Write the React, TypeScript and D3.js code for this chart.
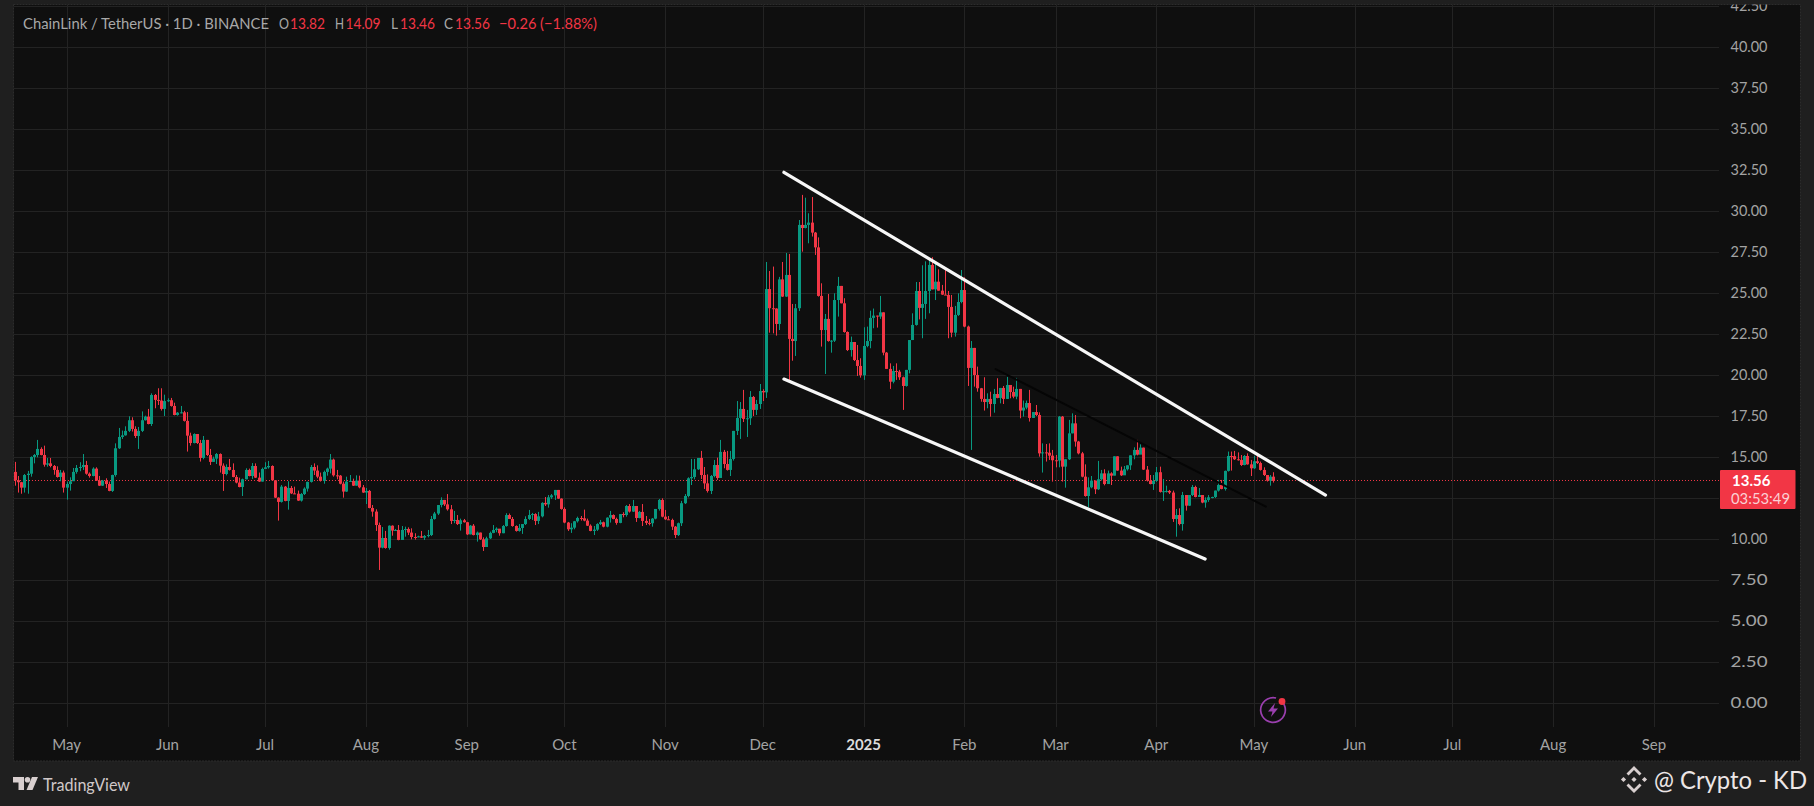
import { useRef, useEffect } from "react";
import * as d3 from "d3";

// daily candles, Apr 15 2024 -> May 7 2025. open of each day = previous close
const firstDay = "2024-04-15";
const firstOpen = 14.11;
const closes = [
  13.6, 13.48, 13.15, 13.92, 14.0, 15.02, 15.14, 15.51, 15.14, 14.55, 14.63, 14.47, 14.23, 13.8, 14.07, 13.15, 13.37, 13.54, 14.11, 14.35,
  14.41, 14.53, 14.0, 13.86, 14.31, 13.58, 13.27, 13.58, 13.37, 12.95, 13.92, 15.55, 16.24, 16.34, 16.61, 17.26, 16.73, 16.3, 16.61, 17.26,
  17.48, 17.03, 18.8, 18.5, 18.46, 17.95, 18.43, 18.48, 18.13, 17.58, 17.72, 17.74, 17.22, 16.32, 15.87, 16.42, 15.87, 14.96, 16.06, 15.14,
  14.72, 14.92, 15.2, 14.49, 13.98, 14.41, 14.23, 13.8, 13.46, 13.19, 13.66, 14.23, 13.86, 14.47, 13.76, 13.52, 14.29, 14.39, 14.47, 13.6,
  12.54, 12.28, 13.21, 12.34, 13.13, 12.8, 12.78, 12.36, 12.76, 13.09, 13.5, 14.41, 14.19, 13.82, 13.56, 14.11, 14.31, 14.86, 13.9, 13.88,
  13.39, 12.91, 13.52, 13.56, 13.27, 13.58, 13.17, 12.85, 12.95, 11.91, 11.69, 10.87, 9.49, 10.08, 9.47, 10.83, 10.53, 10.57, 9.96, 10.57,
  10.63, 10.41, 10.14, 10.12, 10.18, 10.1, 10.2, 10.26, 11.24, 11.57, 12.09, 12.4, 12.13, 11.83, 11.12, 11.18, 10.93, 11.16, 11.04, 10.3,
  10.83, 10.26, 10.41, 10.0, 9.53, 10.06, 10.39, 10.57, 10.65, 10.37, 10.81, 11.48, 11.24, 10.81, 10.51, 10.69, 10.93, 11.24, 11.48, 11.54,
  11.12, 11.4, 12.22, 12.13, 12.56, 12.68, 13.01, 12.48, 11.85, 11.02, 10.61, 10.71, 11.1, 11.3, 11.28, 11.14, 10.83, 10.51, 10.59, 10.93,
  11.04, 10.77, 11.32, 11.48, 11.24, 11.0, 11.54, 11.48, 12.03, 11.69, 12.03, 11.3, 11.67, 11.12, 11.0, 10.98, 11.26, 11.85, 12.4, 11.38,
  11.22, 11.18, 10.77, 10.26, 10.98, 12.2, 12.64, 13.72, 13.8, 14.27, 14.96, 13.92, 13.41, 12.95, 13.86, 14.53, 13.74, 15.33, 14.59, 14.23,
  14.9, 16.61, 17.4, 17.95, 17.34, 17.38, 18.68, 17.89, 18.25, 19.04, 18.96, 25.26, 24.09, 24.07, 23.13, 25.85, 24.8, 26.12, 22.22, 22.09,
  24.09, 29.17, 28.98, 29.17, 29.31, 28.7, 27.8, 24.84, 22.76, 23.44, 22.09, 22.11, 24.59, 25.45, 24.39, 22.64, 21.54, 22.03, 20.93, 20.57,
  20.0, 21.79, 22.09, 23.5, 23.64, 23.58, 23.84, 21.38, 20.39, 19.61, 20.26, 20.22, 19.88, 19.35, 20.33, 22.15, 23.07, 25.14, 24.11, 24.35,
  25.14, 26.73, 25.24, 25.71, 25.16, 24.92, 24.9, 24.17, 22.6, 23.68, 24.47, 25.2, 22.97, 20.45, 21.67, 20.02, 19.21, 18.56, 18.37, 18.56,
  18.25, 18.86, 18.62, 19.23, 18.56, 19.41, 18.98, 18.7, 19.17, 17.85, 18.03, 18.31, 17.4, 17.76, 17.58, 15.24, 15.3, 15.28, 15.1, 14.82,
  14.8, 17.48, 14.43, 14.88, 16.46, 17.07, 15.96, 15.24, 13.82, 12.64, 13.17, 13.58, 13.05, 13.66, 14.02, 13.37, 14.02, 13.88, 15.06, 14.19,
  13.9, 14.27, 14.51, 15.12, 15.45, 15.16, 15.59, 14.25, 13.58, 13.37, 13.56, 14.09, 12.89, 12.93, 12.95, 12.85, 11.24, 11.48, 10.93, 12.7,
  12.05, 12.7, 13.19, 12.58, 12.7, 12.24, 12.4, 12.56, 12.58, 12.97, 13.31, 13.07, 14.17, 15.08, 15.07, 14.88, 14.84, 14.53, 15.08, 14.57,
  14.33, 14.76, 14.65, 14.23, 13.92, 13.58, 13.82, 13.56,
];
const highs = [
  14.72, 13.86, 13.5, 13.98, 14.17, 15.06, 15.2, 16.06, 15.61, 15.71, 14.96, 14.96, 14.53, 14.45, 14.23, 14.19, 13.52, 13.78, 14.35, 14.53,
  14.7, 15.2, 14.78, 14.08, 14.39, 14.39, 13.86, 13.62, 13.72, 13.52, 13.94, 15.85, 16.79, 16.63, 16.89, 17.5, 17.44, 16.89, 16.85, 17.8,
  17.54, 17.95, 18.9, 18.86, 19.21, 19.21, 18.82, 18.6, 18.62, 18.33, 17.76, 18.13, 17.83, 17.76, 16.5, 16.46, 16.42, 16.06, 16.3, 16.06,
  15.51, 15.04, 15.26, 15.24, 14.63, 14.57, 14.9, 14.63, 13.92, 13.76, 13.7, 14.33, 14.31, 14.65, 14.63, 14.07, 14.37, 14.7, 14.78, 14.51,
  13.6, 12.56, 13.31, 13.25, 13.54, 13.25, 13.21, 12.97, 12.82, 13.17, 13.52, 14.53, 14.63, 14.51, 14.07, 14.19, 14.37, 15.2, 14.92, 14.23,
  13.92, 13.52, 13.82, 13.92, 13.7, 13.9, 13.88, 13.31, 13.13, 13.01, 12.09, 11.83, 11.02, 10.75, 10.51, 10.85, 10.85, 10.63, 10.87, 10.81,
  10.77, 10.73, 10.67, 10.37, 10.22, 10.51, 10.26, 10.57, 11.42, 11.67, 12.09, 12.56, 12.4, 12.76, 12.09, 11.73, 11.48, 11.26, 11.24, 11.06,
  10.87, 10.93, 10.47, 10.41, 10.12, 10.16, 10.47, 10.87, 10.73, 10.63, 10.87, 11.59, 11.57, 11.36, 10.85, 10.93, 10.93, 11.4, 11.79, 11.61,
  11.59, 11.67, 12.26, 12.58, 12.7, 12.76, 13.01, 13.01, 12.5, 11.95, 11.06, 10.98, 11.12, 11.38, 11.42, 11.81, 11.26, 10.91, 10.81, 10.98,
  11.18, 11.08, 11.34, 11.73, 11.52, 11.32, 11.54, 11.65, 12.09, 12.15, 12.4, 12.03, 11.73, 12.15, 11.42, 11.24, 11.3, 11.85, 12.46, 12.5,
  11.79, 11.42, 11.26, 10.81, 11.02, 12.34, 12.76, 13.78, 14.9, 14.9, 14.96, 15.39, 14.41, 13.96, 13.92, 14.84, 14.98, 16.06, 15.45, 15.39,
  15.39, 16.61, 18.43, 18.37, 19.11, 17.89, 19.04, 18.74, 18.5, 19.47, 19.15, 26.91, 26.36, 26.63, 24.09, 26.0, 26.91, 27.46, 27.4, 24.35,
  24.35, 29.47, 31.0, 30.83, 29.88, 30.87, 28.74, 28.41, 25.61, 23.74, 24.96, 22.15, 25.0, 26.0, 25.45, 24.7, 22.68, 22.36, 22.03, 21.85,
  21.04, 22.93, 22.97, 23.94, 24.07, 23.64, 24.84, 23.84, 21.42, 20.73, 20.57, 20.73, 20.33, 19.92, 20.33, 22.15, 23.78, 25.69, 25.69, 26.71,
  26.95, 27.03, 27.2, 26.87, 26.46, 25.51, 26.42, 25.14, 24.9, 24.23, 25.0, 26.42, 25.98, 23.03, 22.09, 21.67, 20.53, 19.23, 19.88, 18.9,
  19.0, 19.17, 19.82, 19.23, 19.35, 19.9, 19.41, 19.31, 19.84, 19.17, 18.46, 18.46, 19.11, 17.76, 18.19, 17.74, 15.85, 15.81, 15.85, 15.45,
  15.14, 17.52, 17.52, 14.88, 17.28, 17.68, 17.58, 16.0, 15.33, 14.57, 13.78, 13.86, 13.58, 14.78, 14.23, 14.27, 14.19, 14.09, 15.06, 15.06,
  14.43, 14.47, 14.51, 15.12, 15.61, 16.06, 15.79, 15.59, 14.47, 13.92, 13.92, 14.41, 14.43, 13.68, 13.27, 13.01, 12.97, 11.85, 11.89, 12.89,
  12.7, 12.7, 13.31, 13.27, 13.13, 12.7, 12.56, 12.7, 12.6, 12.97, 13.62, 13.62, 14.19, 15.35, 15.35, 15.39, 15.3, 15.14, 15.14, 15.24,
  14.84, 15.08, 15.08, 14.74, 14.39, 13.92, 13.92, 14.09,
];
const lows = [
  13.27, 12.85, 12.78, 12.85, 12.78, 13.82, 14.63, 15.0, 15.12, 14.43, 14.43, 14.39, 13.94, 13.76, 13.54, 12.85, 12.42, 12.97, 13.56, 14.0,
  14.15, 14.23, 13.94, 13.76, 13.84, 13.56, 13.25, 13.25, 13.13, 12.93, 12.89, 13.82, 15.51, 16.12, 16.32, 16.54, 16.57, 16.18, 15.51, 16.54,
  17.24, 17.01, 16.91, 17.99, 18.19, 17.85, 17.52, 18.37, 18.09, 17.56, 17.54, 17.68, 17.18, 15.35, 15.71, 15.85, 15.81, 14.74, 14.88, 15.08,
  14.53, 14.72, 14.59, 14.07, 12.95, 13.9, 14.19, 13.78, 13.41, 13.17, 12.64, 13.66, 13.84, 13.68, 13.74, 13.5, 13.52, 14.29, 14.31, 13.58,
  12.52, 11.14, 12.24, 12.32, 11.81, 12.76, 12.76, 12.34, 12.3, 12.7, 12.91, 13.46, 13.92, 13.72, 13.52, 13.39, 13.88, 14.02, 13.82, 13.66,
  13.35, 12.54, 12.89, 13.52, 13.25, 13.27, 13.11, 12.83, 12.15, 11.89, 11.38, 10.51, 8.13, 9.45, 9.43, 9.37, 10.22, 10.51, 9.94, 9.96,
  10.16, 10.26, 10.0, 9.98, 10.12, 10.08, 9.96, 10.12, 10.2, 11.2, 11.48, 11.95, 12.03, 11.75, 10.93, 10.98, 10.87, 10.53, 11.02, 10.26,
  10.3, 10.24, 9.86, 9.96, 9.29, 9.53, 10.02, 10.37, 10.43, 10.22, 10.37, 10.77, 11.24, 10.77, 10.47, 10.47, 10.33, 10.87, 11.18, 11.18,
  10.87, 10.93, 11.34, 12.03, 11.93, 12.46, 12.4, 12.46, 11.81, 10.98, 10.51, 10.39, 10.61, 11.02, 11.14, 11.1, 10.81, 10.49, 10.26, 10.51,
  10.87, 10.73, 10.73, 11.02, 11.22, 10.89, 10.98, 11.34, 11.38, 11.63, 11.67, 11.06, 11.28, 10.81, 10.87, 10.85, 10.77, 11.22, 11.75, 11.34,
  11.18, 11.18, 10.57, 10.08, 10.2, 10.81, 12.15, 12.56, 13.31, 13.66, 14.23, 13.68, 13.07, 12.85, 12.76, 13.78, 13.62, 13.74, 14.33, 14.19,
  13.86, 14.8, 16.36, 16.12, 17.15, 16.24, 16.97, 17.52, 17.58, 17.95, 18.43, 18.62, 22.6, 22.56, 22.42, 22.76, 24.78, 24.78, 19.61, 20.89,
  21.18, 23.92, 27.54, 28.96, 28.05, 28.46, 27.34, 24.8, 21.75, 20.08, 22.05, 21.38, 22.03, 23.58, 24.39, 22.6, 21.48, 21.14, 20.87, 19.96,
  19.86, 19.72, 21.71, 21.65, 22.87, 22.91, 23.44, 21.22, 20.39, 19.17, 19.51, 19.72, 19.72, 17.89, 19.31, 20.12, 22.15, 23.03, 23.41, 22.26,
  23.44, 23.78, 25.24, 24.59, 25.16, 24.9, 24.9, 22.26, 22.32, 22.36, 23.62, 24.39, 22.93, 19.35, 15.45, 19.31, 19.0, 18.39, 17.85, 17.99,
  17.48, 17.72, 18.6, 18.29, 18.25, 18.56, 18.6, 18.6, 18.54, 17.38, 17.48, 17.93, 17.18, 17.4, 17.52, 15.04, 14.07, 14.74, 14.84, 13.52,
  14.39, 14.39, 13.52, 13.15, 14.84, 16.46, 15.65, 15.18, 13.78, 12.6, 11.95, 13.11, 12.76, 13.01, 13.58, 13.29, 13.37, 13.31, 13.9, 14.17,
  13.86, 13.92, 14.19, 14.23, 14.88, 15.12, 15.2, 14.23, 13.52, 13.35, 13.01, 13.5, 12.85, 12.34, 12.85, 12.76, 11.06, 10.16, 10.85, 10.53,
  11.75, 12.03, 12.64, 12.56, 12.6, 12.2, 11.93, 12.28, 12.5, 12.52, 12.91, 13.05, 12.97, 14.13, 14.19, 14.84, 14.8, 14.47, 14.51, 14.55,
  13.86, 14.29, 14.59, 14.19, 13.86, 13.52, 13.27, 13.46,
];

const priceTicks = [0, 2.5, 5, 7.5, 10, 12.5, 15, 17.5, 20, 22.5, 25, 27.5, 30, 32.5, 35, 37.5, 40, 42.5];
const monthTicks = [
  "2024-05-01", "2024-06-01", "2024-07-01", "2024-08-01", "2024-09-01", "2024-10-01", "2024-11-01", "2024-12-01",
  "2025-01-01", "2025-02-01", "2025-03-01", "2025-04-01", "2025-05-01", "2025-06-01", "2025-07-01", "2025-08-01", "2025-09-01",
];
const monthLabels = ["May", "Jun", "Jul", "Aug", "Sep", "Oct", "Nov", "Dec", "2025", "Feb", "Mar", "Apr", "May", "Jun", "Jul", "Aug", "Sep"];

// hand drawn trend lines: [start date, start price, end date, end price]
const upperChannel: [string, number, string, number] = ["2024-12-07T12:00Z", 32.38, "2025-05-23", 12.7];
const lowerChannel: [string, number, string, number] = ["2024-12-07T12:00Z", 19.77, "2025-04-16", 8.8];
const innerLine: [string, number, string, number] = ["2025-02-10T14:00Z", 20.38, "2025-05-04T16:00Z", 11.99];

const lastPrice = 13.56;
const countdown = "03:53:49";
const title = "ChainLink / TetherUS · 1D · BINANCE";
const ohlcKeys = ["O", "H", "L", "C"];
const ohlcValues = ["13.82", "14.09", "13.46", "13.56"];
const change = "−0.26 (−1.88%)";

const RED = "#f23645";
const GREEN = "#089981";
const FONT = "Lato, 'Open Sans', sans-serif";

export default function App() {
  const svgRef = useRef<SVGSVGElement>(null);

  useEffect(() => {
    if (!svgRef.current) return;
    document.body.style.margin = "0";
    document.body.style.background = "#1f1f1f";

    const svg = d3.select(svgRef.current);
    svg.selectAll("*").remove();

    const width = 1814;
    const height = 806;
    const panel = { left: 13.5, top: 4.5, right: 1800.5, bottom: 761 };
    const plotRight = 1719;
    const plotBottom = 727;

    const x = d3
      .scaleUtc()
      .domain([new Date("2024-05-01"), new Date("2025-09-01")])
      .range([66.7, 1654]);
    const y = d3.scaleLinear().domain([0, 40]).range([703.3, 47.3]);

    svg.append("rect").attr("width", width).attr("height", height).attr("fill", "#1f1f1f");
    svg
      .append("rect")
      .attr("x", panel.left)
      .attr("y", panel.top)
      .attr("width", panel.right - panel.left)
      .attr("height", panel.bottom - panel.top)
      .attr("fill", "#0f0f0f")
      .attr("stroke", "#2c2c2c")
      .attr("stroke-dasharray", "2 1");

    const defs = svg.append("defs");
    defs
      .append("clipPath")
      .attr("id", "panel-clip")
      .append("rect")
      .attr("x", panel.left)
      .attr("y", panel.top)
      .attr("width", panel.right - panel.left)
      .attr("height", panel.bottom - panel.top);
    const root = svg.append("g").attr("clip-path", "url(#panel-clip)");

    // Grid
    priceTicks.forEach((t) => {
      root
        .append("line")
        .attr("x1", panel.left)
        .attr("x2", plotRight)
        .attr("y1", Math.round(y(t)) + 0.5)
        .attr("y2", Math.round(y(t)) + 0.5)
        .attr("stroke", "#232323");
    });
    monthTicks.forEach((t) => {
      const px = Math.round(x(new Date(t))) + 0.5;
      root.append("line").attr("x1", px).attr("x2", px).attr("y1", panel.top).attr("y2", plotBottom).attr("stroke", "#232323");
    });

    // Last price line
    root
      .append("line")
      .attr("x1", panel.left)
      .attr("x2", 1720)
      .attr("y1", Math.floor(y(lastPrice)) + 0.5)
      .attr("y2", Math.floor(y(lastPrice)) + 0.5)
      .attr("stroke", RED)
      .attr("stroke-dasharray", "1 2")
      .attr("shape-rendering", "crispEdges");

    // Candles
    const start = new Date(firstDay);
    closes.forEach((c, i) => {
      const open = i === 0 ? firstOpen : closes[i - 1];
      const color = c < open ? RED : GREEN;
      const px = Math.round(x(d3.utcDay.offset(start, i)));
      root
        .append("rect")
        .attr("x", px)
        .attr("width", 1)
        .attr("y", y(highs[i]))
        .attr("height", y(lows[i]) - y(highs[i]))
        .attr("fill", color);
      const top = Math.min(y(open), y(c));
      root
        .append("rect")
        .attr("x", px - 1)
        .attr("width", 3)
        .attr("y", top)
        .attr("height", Math.max(1, Math.abs(y(open) - y(c))))
        .attr("fill", color);
    });

    // Trend lines
    const drawTrend = (t: [string, number, string, number], color: string, w: number) => {
      root
        .append("line")
        .attr("x1", x(new Date(t[0])))
        .attr("y1", y(t[1]))
        .attr("x2", x(new Date(t[2])))
        .attr("y2", y(t[3]))
        .attr("stroke", color)
        .attr("stroke-width", w)
        .attr("stroke-linecap", "round");
    };
    drawTrend(upperChannel, "#f7f7f7", 3.2);
    drawTrend(lowerChannel, "#f7f7f7", 3.2);
    drawTrend(innerLine, "#050505", 2);

    // Price axis labels (12.50 sits under the last price tag)
    priceTicks
      .filter((t) => t !== 12.5)
      .forEach((t) => {
        root
          .append("text")
          .attr("x", 1749)
          .attr("y", y(t) - 1)
          .attr("dy", "0.36em")
          .attr("text-anchor", "middle")
          .attr("fill", "#a3a3a3")
          .attr("font-family", FONT)
          .attr("font-size", 15)
          .attr("textLength", 37)
          .attr("lengthAdjust", "spacingAndGlyphs")
          .text(t.toFixed(2));
      });

    // Time axis labels
    monthTicks.forEach((t, i) => {
      const bold = monthLabels[i] === "2025";
      root
        .append("text")
        .attr("x", x(new Date(t)))
        .attr("y", 744.5)
        .attr("dy", "0.36em")
        .attr("text-anchor", "middle")
        .attr("fill", bold ? "#dcdcdc" : "#a3a3a3")
        .attr("font-family", FONT)
        .attr("font-weight", bold ? 700 : 400)
        .attr("font-size", 15)
        .text(monthLabels[i]);
    });

    // Last price tag
    root.append("rect").attr("x", 1720).attr("y", 470).attr("width", 75.5).attr("height", 39).attr("rx", 1).attr("fill", RED);
    root
      .append("text")
      .attr("x", 1732)
      .attr("y", 480.5)
      .attr("dy", "0.36em")
      .attr("fill", "#ffffff")
      .attr("font-family", FONT)
      .attr("font-weight", 700)
      .attr("font-size", 15)
      .text(lastPrice.toFixed(2));
    root
      .append("text")
      .attr("x", 1731)
      .attr("y", 498.5)
      .attr("dy", "0.36em")
      .attr("fill", "#fbd0d4")
      .attr("font-family", FONT)
      .attr("font-size", 15)
      .attr("textLength", 59)
      .attr("lengthAdjust", "spacingAndGlyphs")
      .text(countdown);

    // Header, each piece placed where the legend puts it
    const headerText = (sx: number, w: number, fill: string, s: string) => {
      root
        .append("text")
        .attr("x", sx)
        .attr("y", 23.5)
        .attr("dy", "0.36em")
        .attr("font-family", FONT)
        .attr("font-size", 15)
        .attr("fill", fill)
        .attr("textLength", w)
        .attr("lengthAdjust", "spacingAndGlyphs")
        .text(s);
    };
    headerText(23, 246, "#a8a8a8", title);
    const keyX = [279, 335, 391, 444];
    const keyW = [10, 9, 7, 9];
    const valueX = [290, 345.5, 400, 455];
    ohlcKeys.forEach((k, i) => {
      headerText(keyX[i], keyW[i], "#a8a8a8", k);
      headerText(valueX[i], 35, RED, ohlcValues[i]);
    });
    headerText(499, 98, RED, change);

    // Lightning badge
    const badge = root.append("g").attr("transform", "translate(1273,710)");
    const ring = d3.arc()({ innerRadius: 11.5, outerRadius: 13.2, startAngle: 0.85, endAngle: Math.PI * 2 + 0.25 });
    badge.append("path").attr("d", ring!).attr("fill", "#9a3fae");
    badge
      .append("path")
      .attr("d", d3.line()([[2, -7], [-5, 1.5], [-0.5, 1.5], [-2, 7], [5, -1.5], [0.5, -1.5], [2, -7]])!)
      .attr("fill", "#9a3fae");
    badge.append("circle").attr("cx", 9).attr("cy", -8.5).attr("r", 3.4).attr("fill", RED);

    // Footer
    const tv = svg.append("g").attr("transform", "translate(13,777)").attr("fill", "#d8cfcf");
    tv.append("path").attr("d", "M0 0H11V13H5.5V5.5H0Z");
    tv.append("circle").attr("cx", 14.5).attr("cy", 2.8).attr("r", 2.8);
    tv.append("path").attr("d", "M19 0H25L19.5 13H13.5Z");
    svg
      .append("text")
      .attr("x", 43)
      .attr("y", 785)
      .attr("dy", "0.36em")
      .attr("fill", "#d0c8c8")
      .attr("font-family", FONT)
      .attr("font-size", 17)
      .attr("textLength", 87)
      .attr("lengthAdjust", "spacingAndGlyphs")
      .text("TradingView");

    const bn = svg.append("g").attr("transform", "translate(1634,779.5)").attr("fill", "#d8cfcf");
    const diamond = (cx: number, cy: number, r: number) => `M${cx} ${cy - r}L${cx + r} ${cy}L${cx} ${cy + r}L${cx - r} ${cy}Z`;
    bn.append("path").attr("d", diamond(-10.5, 0, 2.6));
    bn.append("path").attr("d", diamond(10.5, 0, 2.6));
    bn.append("path").attr("d", diamond(0, 0, 2.6));
    bn.append("path").attr("d", "M0 -13.5L7.5 -6L5.5 -4L0 -9.5L-5.5 -4L-7.5 -6Z");
    bn.append("path").attr("d", "M0 13.5L7.5 6L5.5 4L0 9.5L-5.5 4L-7.5 6Z");
    svg
      .append("text")
      .attr("x", 1654)
      .attr("y", 780)
      .attr("dy", "0.36em")
      .attr("fill", "#ece6e6")
      .attr("font-family", FONT)
      .attr("font-size", 25)
      .attr("textLength", 153)
      .attr("lengthAdjust", "spacingAndGlyphs")
      .text("@ Crypto - KD");
  }, []);

  return <svg ref={svgRef} width={1814} height={806} style={{ display: "block" }} />;
}
